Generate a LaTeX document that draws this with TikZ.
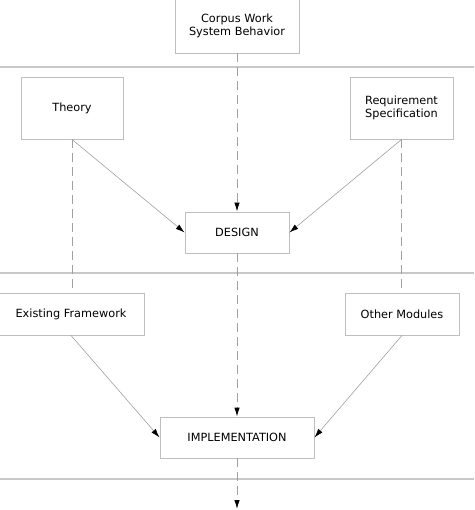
\documentclass[tikz,border=0pt]{standalone}
\usepackage{fontspec}
\setmainfont{DejaVu Sans}
\usetikzlibrary{arrows.meta}
\definecolor{BoxGray}{HTML}{BEBEBE}
\definecolor{RuleGray}{HTML}{C8C8C8}
\definecolor{LinkGray}{HTML}{A0A0A0}

\begin{document}
\begin{tikzpicture}[x=1pt,y=-1pt,
  every node/.style={font=\fontsize{11.3}{13}\selectfont},
  box/.style={draw=BoxGray, line width=0.9pt, fill=white, align=center, inner sep=0pt},
  feed/.style={draw=LinkGray, line width=0.6pt, -{Latex[length=9pt,width=5.5pt,color=black]}},
  trace/.style={draw=LinkGray, line width=0.9pt, dash pattern=on 9pt off 5pt},
  flow/.style={trace, -{Latex[length=9pt,width=5.5pt,color=black]}}]
  \useasboundingbox (0,0) rectangle (474,510);
  \foreach \y in {67,273,479} {
    \draw[RuleGray, line width=1.2pt] (0,\y) -- (474,\y);
  }
  \node[box, minimum width=124pt, minimum height=55pt] (corpus) at (237,25.5) {Corpus Work\\System Behavior};
  \node[box, minimum width=102pt, minimum height=62pt] (theory) at (72,108) {Theory};
  \node[box, minimum width=103pt, minimum height=62pt] (req) at (401.5,108) {Requirement\\Specification};
  \node[box, minimum width=104pt, minimum height=41pt] (design) at (237,232.5) {DESIGN};
  \node[box, minimum width=146pt, minimum height=42pt] (exist) at (71,314) {Existing Framework};
  \node[box, minimum width=114pt, minimum height=42pt] (other) at (402,314) {Other Modules};
  \node[box, minimum width=154pt, minimum height=41pt] (impl) at (237,437.5) {IMPLEMENTATION};
  \coordinate (out) at (237,509);
  \draw[trace] (theory.south) -- (theory.south |- exist.north);
  \draw[trace] (req.south) -- (req.south |- other.north);
  \draw[flow] (corpus.south) -- (design.north);
  \draw[flow] (design.south) -- (impl.north);
  \draw[flow] (impl.south) -- (out);
  \draw[feed] (theory.south) -- (design.west);
  \draw[feed] (req.south) -- (design.east);
  \draw[feed] (exist.south) -- (impl.west);
  \draw[feed] (other.south) -- (impl.east);
\end{tikzpicture}
\end{document}
